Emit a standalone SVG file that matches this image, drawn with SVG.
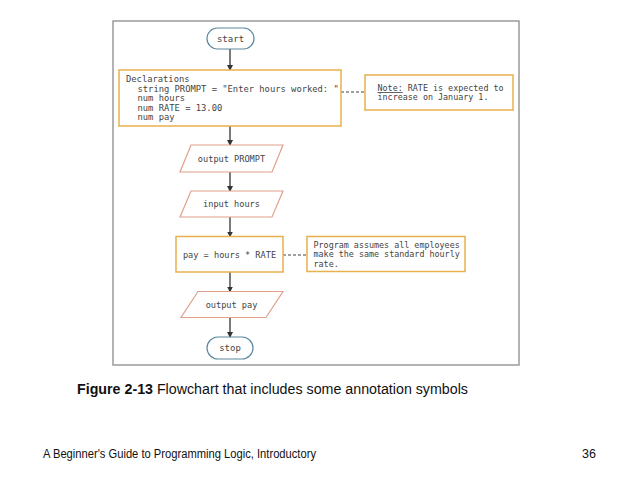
<svg xmlns="http://www.w3.org/2000/svg" width="638" height="479" viewBox="0 0 638 479">
<style>
.mono{font-family:"DejaVu Sans Mono","Liberation Mono",monospace;fill:#444;}
.term{fill:#fff;stroke:#5d8aa0;stroke-width:1.2;}
.io{fill:#fff;stroke:#e0a08c;stroke-width:1.2;}
.proc{fill:#fff;stroke:#e8b04e;stroke-width:1.5;}
.flow{stroke:#333;stroke-width:1.3;fill:none;marker-end:url(#arr);}
.dash{stroke:#444;stroke-width:1.2;stroke-dasharray:3 2;fill:none;}
.sans{font-family:"Liberation Sans",Arial,sans-serif;fill:#111;}
</style>
<defs>
<marker id="arr" markerWidth="6" markerHeight="6" refX="5" refY="3" orient="auto" markerUnits="userSpaceOnUse">
<path d="M0,0 L6,3 L0,6 z" fill="#333"/>
</marker>
</defs>
<rect width="638" height="479" fill="#fff"/>
<rect x="113" y="21" width="406" height="344" fill="#fff" stroke="#9a9a9a" stroke-width="1.5"/>
<g id="connectors">
<line class="flow" x1="230" y1="49" x2="230" y2="70"/>
<line class="flow" x1="230" y1="126" x2="230" y2="145"/>
<line class="flow" x1="230" y1="172" x2="230" y2="191"/>
<line class="flow" x1="230" y1="217" x2="230" y2="236.5"/>
<line class="flow" x1="230" y1="272" x2="230" y2="291.5"/>
<line class="flow" x1="230" y1="317.5" x2="230" y2="337"/>
<line class="dash" x1="341" y1="92" x2="365" y2="92"/>
<line class="dash" x1="283" y1="255" x2="307" y2="255"/>
</g>
<g id="start">
<rect class="term" x="207" y="28" width="47" height="21" rx="10.5"/>
<text class="mono" x="230.5" y="41.5" font-size="9" text-anchor="middle">start</text>
</g>
<g id="declarations">
<rect class="proc" x="119" y="70" width="222" height="56"/>
<text class="mono" font-size="8.8">
<tspan x="126" y="82">Declarations</tspan>
<tspan x="137.5" y="91.5">string PROMPT = "Enter hours worked: "</tspan>
<tspan x="137.5" y="101">num hours</tspan>
<tspan x="137.5" y="110.5">num RATE = 13.00</tspan>
<tspan x="137.5" y="120">num pay</tspan>
</text>
</g>
<g id="note1">
<rect class="proc" x="365" y="75" width="148" height="35"/>
<text class="mono" font-size="8.4">
<tspan x="377.5" y="91"><tspan text-decoration="underline">Note:</tspan> RATE is expected to</tspan>
<tspan x="377.5" y="100">increase on January 1.</tspan>
</text>
</g>
<g id="outputPrompt">
<polygon class="io" points="191,145 283,145 272,172 180,172"/>
<text class="mono" x="231.5" y="161.5" font-size="8.6" text-anchor="middle">output PROMPT</text>
</g>
<g id="inputHours">
<polygon class="io" points="191,191 283,191 272,217 180,217"/>
<text class="mono" x="231.5" y="207" font-size="8.6" text-anchor="middle">input hours</text>
</g>
<g id="payCalc">
<rect class="proc" x="176" y="236.5" width="107" height="35.5"/>
<text class="mono" x="229.5" y="257.5" font-size="8.6" text-anchor="middle">pay = hours * RATE</text>
</g>
<g id="note2">
<rect class="proc" x="307" y="236.5" width="158" height="35"/>
<text class="mono" font-size="8.4">
<tspan x="313.5" y="248">Program assumes all employees</tspan>
<tspan x="313.5" y="257.3">make the same standard hourly</tspan>
<tspan x="313.5" y="266.6">rate.</tspan>
</text>
</g>
<g id="outputPay">
<polygon class="io" points="198,291.5 283,291.5 266,317.5 181,317.5"/>
<text class="mono" x="231.5" y="308" font-size="8.6" text-anchor="middle">output pay</text>
</g>
<g id="stop">
<rect class="term" x="207" y="337" width="46" height="22" rx="11"/>
<text class="mono" x="230" y="351" font-size="9" text-anchor="middle">stop</text>
</g>
<text class="sans" x="77" y="394" font-size="15.5" textLength="391" lengthAdjust="spacingAndGlyphs"><tspan font-weight="bold">Figure 2-13</tspan> Flowchart that includes some annotation symbols</text>
<text class="sans" x="43" y="457.5" font-size="12.5" textLength="273" lengthAdjust="spacingAndGlyphs">A Beginner's Guide to Programming Logic, Introductory</text>
<text class="sans" x="596" y="457.5" font-size="12.5" text-anchor="end">36</text>
</svg>
